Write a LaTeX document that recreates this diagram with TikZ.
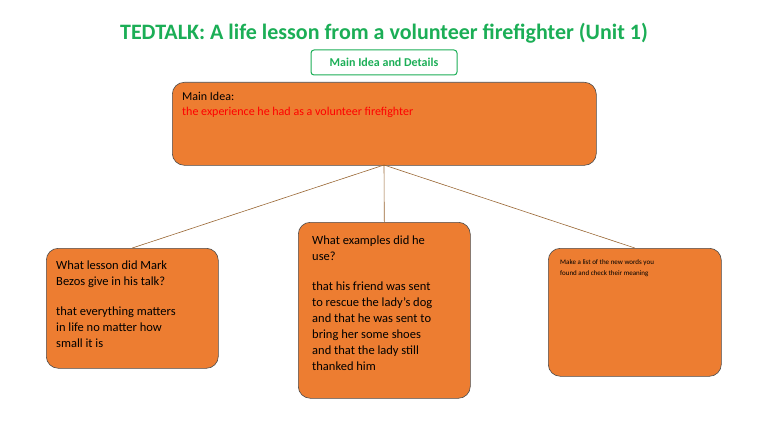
\documentclass[tikz,border=0pt]{standalone}
\usepackage{fontspec}
\setmainfont{Carlito}
\begin{document}
\begin{tikzpicture}[x=1pt,y=-1pt,
  box/.style={draw=black!70,line width=0.6pt,fill=orange1,rounded corners=12pt,anchor=north west,align=left,inner sep=0pt},
  link/.style={draw=brown!80!black,line width=0.6pt}]
\definecolor{orange1}{HTML}{ED7D31}
\definecolor{green1}{HTML}{1BAE56}
\useasboundingbox (0,0) rectangle (768,433);
\node[text=green1,font=\bfseries\fontsize{22}{26}\selectfont] (title) at (384,33) {TEDTALK: A life lesson from a volunteer firefighter (Unit 1)};
\node[draw=green1,line width=1pt,rounded corners=3pt,text=green1,font=\bfseries\fontsize{12}{14}\selectfont,minimum width=146pt,minimum height=25pt] (sub) at (384,62.5) {Main Idea and Details};
\node[box,minimum width=424pt,minimum height=83pt] (main) at (172,82) {};
\node[anchor=north west,align=left,font=\fontsize{12}{15}\selectfont,inner sep=0pt] (mt) at (182,92) {Main Idea:\\\textcolor{red}{the experience he had as a volunteer firefighter}};
\node[box,minimum width=172pt,minimum height=120pt] (l) at (46,248) {};
\node[anchor=north west,align=left,font=\fontsize{12.5}{16}\selectfont,inner sep=0pt] (lt) at (56,261) {What lesson did Mark\\Bezos give in his talk?\\[14pt]that everything matters\\in life no matter how\\small it is};
\node[box,minimum width=172pt,minimum height=176pt] (m) at (298,222) {};
\node[anchor=north west,align=left,font=\fontsize{12.5}{16}\selectfont,inner sep=0pt] (mtx) at (312,236) {What examples did he\\use?\\[14pt]that his friend was sent\\to rescue the lady's dog\\and that he was sent to\\bring her some shoes\\and that the lady still\\thanked him};
\node[box,minimum width=173pt,minimum height=128pt] (r) at (548,248) {};
\node[anchor=north west,align=left,font=\fontsize{7}{11}\selectfont,inner sep=0pt] (rt) at (560,259) {Make a list of the new words you\\found and check their meaning};
\coordinate (c) at (384,165);
\draw[link] (c) -- (l.north);
\draw[link] (c) -- (m.north);
\draw[link] (c) -- (r.north);
\end{tikzpicture}
\end{document}
